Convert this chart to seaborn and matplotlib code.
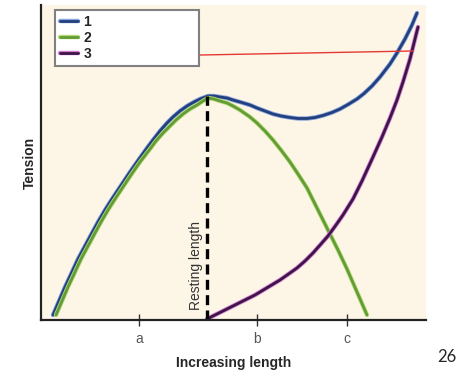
import matplotlib
matplotlib.use('Agg')
import matplotlib.pyplot as plt
import matplotlib.patheffects as pe
import seaborn as sns

# curve 1 (total tension)
len_1 = [12, 18, 24, 31, 37, 44, 51, 57, 64, 71, 77, 83, 89, 96, 106, 112, 119, 126, 132,
         139, 146, 153, 159, 167, 173, 179, 186, 192, 199, 209, 216, 224, 232, 240, 249,
         257, 266, 274, 282, 291, 299, 307, 316, 323, 331, 339, 349, 356, 364, 371, 376]
tension_1 = [5, 19, 33, 48, 61, 74, 87, 98, 110, 121, 130, 139, 148, 158, 172, 180, 189, 197,
             203, 209, 214, 218, 221, 224, 224, 223, 222, 220, 218, 215, 212, 209, 206, 204,
             202.5, 201.5, 201.5, 202.5, 204.5, 207.5, 211, 215.5, 221, 226.5, 234, 243, 256,
             267, 281, 295, 307]

# curve 2 (active tension)
len_2 = [15, 21, 27, 34, 40, 47, 54, 60, 67, 74, 80, 86, 92, 99, 109, 115, 122, 129, 135,
         142, 149, 156, 162, 167, 173, 179, 186, 192, 199, 209, 216, 224, 232, 240, 249,
         257, 266, 272, 279, 289, 297, 306, 316, 326]
tension_2 = [5, 19, 33, 48, 61, 74, 87, 98, 110, 121, 130, 139, 148, 158, 171, 179, 187, 194,
             200, 206, 211, 215, 219, 222, 221, 219, 217, 214, 210, 203, 197, 189, 180, 170,
             158, 146, 132, 120, 106, 86, 70, 51, 28, 5]

# curve 3 (passive tension)
len_3 = [166, 174, 184, 194, 204, 214, 224, 239, 249, 256, 264, 272, 280, 287, 295, 302,
         312, 321, 332, 341, 349, 356, 362, 369, 377]
tension_3 = [1, 5, 10, 15, 20, 25, 31, 40, 47, 52, 59, 67, 76, 84, 95, 105, 121, 139, 163,
             183, 202, 220, 238, 261, 293]

curve_labels = ['1', '2', '3']
tick_pos = [98, 216, 306]
tick_labels = ['a', 'b', 'c']
resting_len = 166
resting_top = 224

sns.set_style('ticks')
plt.rcParams['font.family'] = ['Liberation Sans', 'DejaVu Sans']

fig = plt.figure(figsize=(4.74, 3.71), dpi=100)
ax = fig.add_axes([0.0865, 0.1375, 0.8122, 0.849])
ax.set_facecolor('#fdf6e6')

styles = [('#23407e', '#8aa6de'), ('#629c36', '#b9dc7a'), ('#3b1646', '#d77bd8')]
curves = [(len_1, tension_1), (len_2, tension_2), (len_3, tension_3)]
for (x, y), lab, (col, halo) in zip(curves, curve_labels, styles):
    sns.lineplot(x=x, y=y, ax=ax, color=col, lw=2.0, label=lab, sort=False, estimator=None)
    ax.lines[-1].set_path_effects([pe.Stroke(linewidth=3.2, foreground=halo), pe.Normal()])

# resting length marker
ax.vlines(resting_len, 0, resting_top, colors='black', linestyles=(0, (3, 1.6)), lw=2.4)
ax.text(resting_len - 4, 10, 'Resting length', rotation=90, ha='right', va='bottom',
        fontsize=10, color='#333333')

# red pointer line from the legend box
ax.plot([0.4026, 0.966], [0.841, 0.854], transform=ax.transAxes, color='#e53935', lw=1)

leg = ax.legend(loc='upper left', bbox_to_anchor=(0.036, 0.806, 0.374, 0.178), mode='expand',
                borderaxespad=0, frameon=True, fancybox=False, edgecolor='#808080',
                framealpha=1, borderpad=0.35, labelspacing=0.15, handlelength=1.3,
                handletextpad=0.4, prop={'weight': 'bold', 'size': 10})
leg.get_frame().set_linewidth(1.5)

ax.set_xlim(0, 385)
ax.set_ylim(0, 315)
ax.set_xticks(tick_pos, tick_labels)
ax.set_yticks([])
ax.tick_params(axis='x', direction='inout', length=9, width=1, color='#333333',
               labelcolor='#555555', labelsize=10, pad=4)
for side in ['top', 'right']:
    ax.spines[side].set_visible(False)
for side in ['left', 'bottom']:
    ax.spines[side].set_linewidth(1.6)
    ax.spines[side].set_color('#222222')

ax.set_xlabel('Increasing length', fontweight='bold', fontsize=10, labelpad=7)
ax.set_ylabel('Tension', fontweight='bold', fontsize=10, labelpad=3)

fig.text(0.943, 0.038, '26', fontsize=12, family=['Lato', 'DejaVu Sans'], ha='center', va='center')

fig.savefig('out.png', dpi=100)
